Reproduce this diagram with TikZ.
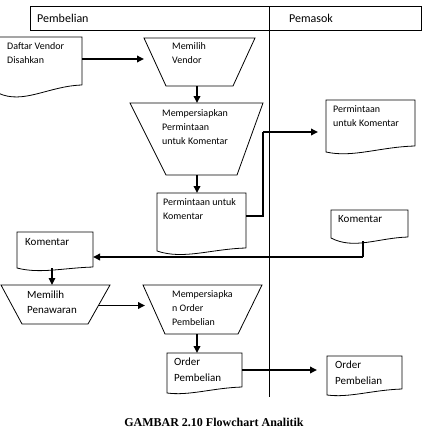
\documentclass[tikz,border=0pt]{standalone}
\usepackage{fontspec}
\setmainfont{Carlito}
\newfontfamily\capfont{Liberation Serif}
\usetikzlibrary{calc,arrows.meta}
\tikzset{
  frame/.style={inner sep=0pt, outer sep=0pt, anchor=north west, draw=none},
  outline/.style={draw=black, line width=0.8pt, line join=miter},
  txt/.style={anchor=north west, inner sep=0pt, align=left, font=\fontsize{10}{14}\selectfont},
  txtb/.style={anchor=north west, inner sep=0pt, align=left, font=\fontsize{11}{14.5}\selectfont},
  conn/.style={draw=black, line width=1.8pt, -{Triangle[length=7pt,width=6.5pt]}},
  thinconn/.style={draw=black, line width=1.1pt},
}
\newcommand\docshape[3]{\draw[outline] (#1.south east) -- (#1.north east) -- (#1.north west) -- ($(#1.south west)+(0,#2)$) .. controls ($(#1.south west)!0.3!(#1.south east)+(0,#2+3*#3)$) and ($(#1.south west)!0.6!(#1.south east)+(0,1)$) .. (#1.south east);}
\newcommand\trapshape[3]{\draw[outline] (#1.north west) -- (#1.north east) -- ($(#1.south east)+(-#3,0)$) -- ($(#1.south west)+(#2,0)$) -- cycle;}
\begin{document}
\begin{tikzpicture}[x=1pt,y=-1pt]
\useasboundingbox (0,0) rectangle (422,442);
% header
\node[frame, draw=black, line width=0.8pt, minimum width=391.5pt, minimum height=24pt] (hdr) at (30,6) {};
\node[anchor=west, inner sep=0pt, font=\fontsize{12}{14}\selectfont] (hp) at (37,18) {Pembelian};
\node[anchor=west, inner sep=0pt, font=\fontsize{12}{14}\selectfont] (hs) at (289,18) {Pemasok};
\coordinate (dvt) at (269,6);
\coordinate (dvb) at (269,397);
\draw[line width=0.8pt] (dvt) -- (dvb);
% shapes
\node[frame, minimum width=84pt, minimum height=48pt] (d1) at (-2,37) {};
\docshape{d1}{8}{4}
\node[txt] (t1) at (7,42) {Daftar Vendor\\Disahkan};

\node[frame, minimum width=111pt, minimum height=48pt] (mv) at (144,38) {};
\trapshape{mv}{22}{22}
\node[txt] (t2) at (172,42) {Memilih\\Vendor};

\node[frame, minimum width=133pt, minimum height=72pt] (mp) at (130,103) {};
\trapshape{mp}{36}{26}
\node[txt] (t3) at (162,109.5) {Mempersiapkan\\Permintaan\\untuk Komentar};

\node[frame, minimum width=89pt, minimum height=55pt] (d3) at (157,193) {};
\docshape{d3}{3}{3}
\node[txt] (t4) at (163,198.5) {Permintaan untuk\\Komentar};

\node[frame, minimum width=89pt, minimum height=46pt] (pk) at (326,100) {};
\docshape{pk}{6}{2}
\node[txt] (t5) at (333,105.5) {Permintaan\\untuk Komentar};

\node[frame, minimum width=77pt, minimum height=27pt] (km) at (331,210) {};
\docshape{km}{1}{4}
\node[txtb] (t6) at (338,215) {Komentar};

\node[frame, minimum width=76pt, minimum height=35pt] (kl) at (17,232) {};
\docshape{kl}{1}{2}
\node[txtb] (t7) at (25,238) {Komentar};

\node[frame, minimum width=109pt, minimum height=39pt] (pn) at (1,285) {};
\trapshape{pn}{21}{22}
\node[txtb] (t8) at (27,291) {Memilih\\Penawaran};

\node[frame, minimum width=119pt, minimum height=49pt] (op) at (143,285) {};
\trapshape{op}{22}{24}
\node[txt, font=\fontsize{10}{13.7}\selectfont] (t9) at (172,290.5) {Mempersiapka\\n Order\\Pembelian};

\node[frame, minimum width=75pt, minimum height=34pt] (ob) at (167,353) {};
\docshape{ob}{6}{1}
\node[txtb, font=\fontsize{11}{16}\selectfont] (t10) at (174,358) {Order\\Pembelian};

\node[frame, minimum width=75pt, minimum height=33pt] (obr) at (327,356) {};
\docshape{obr}{6}{1}
\node[txtb, font=\fontsize{11}{16}\selectfont] (t11) at (335,360.5) {Order\\Pembelian};

% connectors
\coordinate (a1) at ($(d1.east)+(0,-2)$);
\draw[conn] (a1) -- (a1 -| mv.north west);
\coordinate (a2) at ([xshift=-2.5pt]mv.south);
\draw[conn] (a2) -- (a2 |- mp.north);
\coordinate (a3) at ([xshift=0.5pt]mp.south);
\draw[conn] (a3) -- (a3 |- d3.north);
\coordinate (a4) at ($(d3.east)+(0,-4.5)$);
\coordinate (a4b) at ($(a4)+(17,0)$);
\coordinate (a4t) at ($(pk.west)+(0,9)$);
\draw[thinconn] (a4) -- (a4b) -- (a4b |- a4t);
\draw[conn, shorten >=8pt] (a4b |- a4t) -- (a4t);
\coordinate (a5) at ($(km.south)+(-6.5,4)$);
\coordinate (a5t) at ($(kl.east)+(0,7.5)$);
\draw[thinconn] (a5) -- (a5 |- a5t);
\draw[conn] (a5 |- a5t) -- (a5t);
\coordinate (a6) at ($(kl.south)+(-3,1)$);
\draw[conn, line width=1.3pt] (a6) -- (a6 |- pn.north);
\coordinate (a7) at ($(pn.east)+(-11,1)$);
\draw[conn] (a7) -- ($(a7 -| op.north west)+(2,0)$);
\coordinate (a8) at ([xshift=-5.5pt]op.south);
\draw[conn] (a8) -- (a8 |- ob.north);
\draw[conn, shorten >=10pt] (ob.east) -- (ob.east -| obr.west);
% caption
\node[inner sep=0pt, font=\capfont\bfseries\fontsize{12}{14}\selectfont] (cap) at (214,422) {GAMBAR 2.10 Flowchart Analitik};
\end{tikzpicture}
\end{document}
